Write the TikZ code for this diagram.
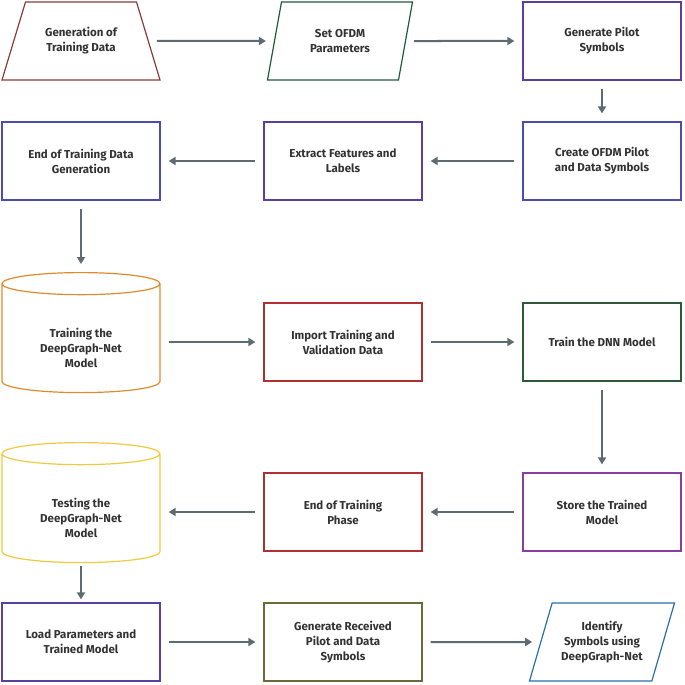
\documentclass[tikz,border=0pt]{standalone}
\usepackage{fontspec}
\setmainfont{Fira Sans}
\usetikzlibrary{shapes.geometric,arrows.meta}
\definecolor{arr}{HTML}{5F6B73}
\definecolor{cA}{HTML}{8B3A3A}
\definecolor{cB}{HTML}{1E5A3C}
\definecolor{cC}{HTML}{5B3FA0}
\definecolor{cD}{HTML}{4B4BB0}
\definecolor{cE}{HTML}{E08A2C}
\definecolor{cF}{HTML}{B03030}
\definecolor{cG}{HTML}{2E5A3A}
\definecolor{cH}{HTML}{F0C93C}
\definecolor{cI}{HTML}{8A3FA0}
\definecolor{cJ}{HTML}{6B6A3A}
\definecolor{cK}{HTML}{2A6FA8}
\begin{document}
\begin{tikzpicture}[x=1pt,y=-1pt,
  base/.style={draw,line width=1.2pt,minimum width=158pt,minimum height=78pt,align=center,font=\fontsize{11.5}{15}\selectfont\bfseries\color{black!80}},
  box/.style={base,rectangle},
  par/.style={base,trapezium,trapezium left angle=65,trapezium right angle=115,minimum width=145pt,trapezium stretches body},
  trap/.style={base,trapezium,trapezium left angle=55,trapezium right angle=55,minimum width=158pt,trapezium stretches body},
  cyl/.style={base,cylinder,shape border rotate=90,minimum width=158pt,minimum height=120pt,shape aspect=0.25},
  ar/.style={draw=arr,line width=2pt,shorten <=8pt,shorten >=8pt,-{Triangle[length=7pt,width=8pt]}}]
\useasboundingbox (0,0) rectangle (685,685);
\node[trap,draw=cA] (a) at (81,41) {Generation of\\Training Data};
\node[par,draw=cB] (b) at (340,41) {Set OFDM\\Parameters};
\node[box,draw=cC] (c) at (602,41) {Generate Pilot\\Symbols};
\node[box,draw=cD] (d) at (602,161) {Create OFDM Pilot\\and Data Symbols};
\node[box,draw=cC] (e) at (343,161) {Extract Features and\\Labels};
\node[box,draw=cD] (f) at (81,161) {End of Training Data\\Generation};
\node[cyl,draw=cE] (g) at (81,340) {\\[10pt]Training the\\DeepGraph-Net\\Model};
\node[box,draw=cF] (h) at (343,342) {Import Training and\\Validation Data};
\node[box,draw=cG] (i) at (602,342) {Train the DNN Model};
\node[box,draw=cI] (j) at (602,512) {Store the Trained\\Model};
\node[box,draw=cF] (k) at (343,512) {End of Training\\Phase};
\node[cyl,draw=cH] (l) at (81,510) {\\[10pt]Testing the\\DeepGraph-Net\\Model};
\node[box,draw=cC] (m) at (81,642) {Load Parameters and\\Trained Model};
\node[box,draw=cJ] (n) at (343,642) {Generate Received\\Pilot and Data\\Symbols};
\node[par,draw=cK] (o) at (602,642) {Identify\\Symbols using\\DeepGraph-Net};
\draw[ar] (a) -- (b);
\draw[ar] (b) -- (c);
\draw[ar] (c) -- (d);
\draw[ar] (d) -- (e);
\draw[ar] (e) -- (f);
\draw[ar] (f) -- (g);
\draw[ar] (g.east|-h) -- (h);
\draw[ar] (h) -- (i);
\draw[ar] (i) -- (j);
\draw[ar] (j) -- (k);
\draw[ar] (k) -- (l.east|-k);
\draw[ar,shorten <=3pt,shorten >=3pt] (l) -- (m);
\draw[ar] (m) -- (n);
\draw[ar] (n) -- (o);
\end{tikzpicture}
\end{document}
